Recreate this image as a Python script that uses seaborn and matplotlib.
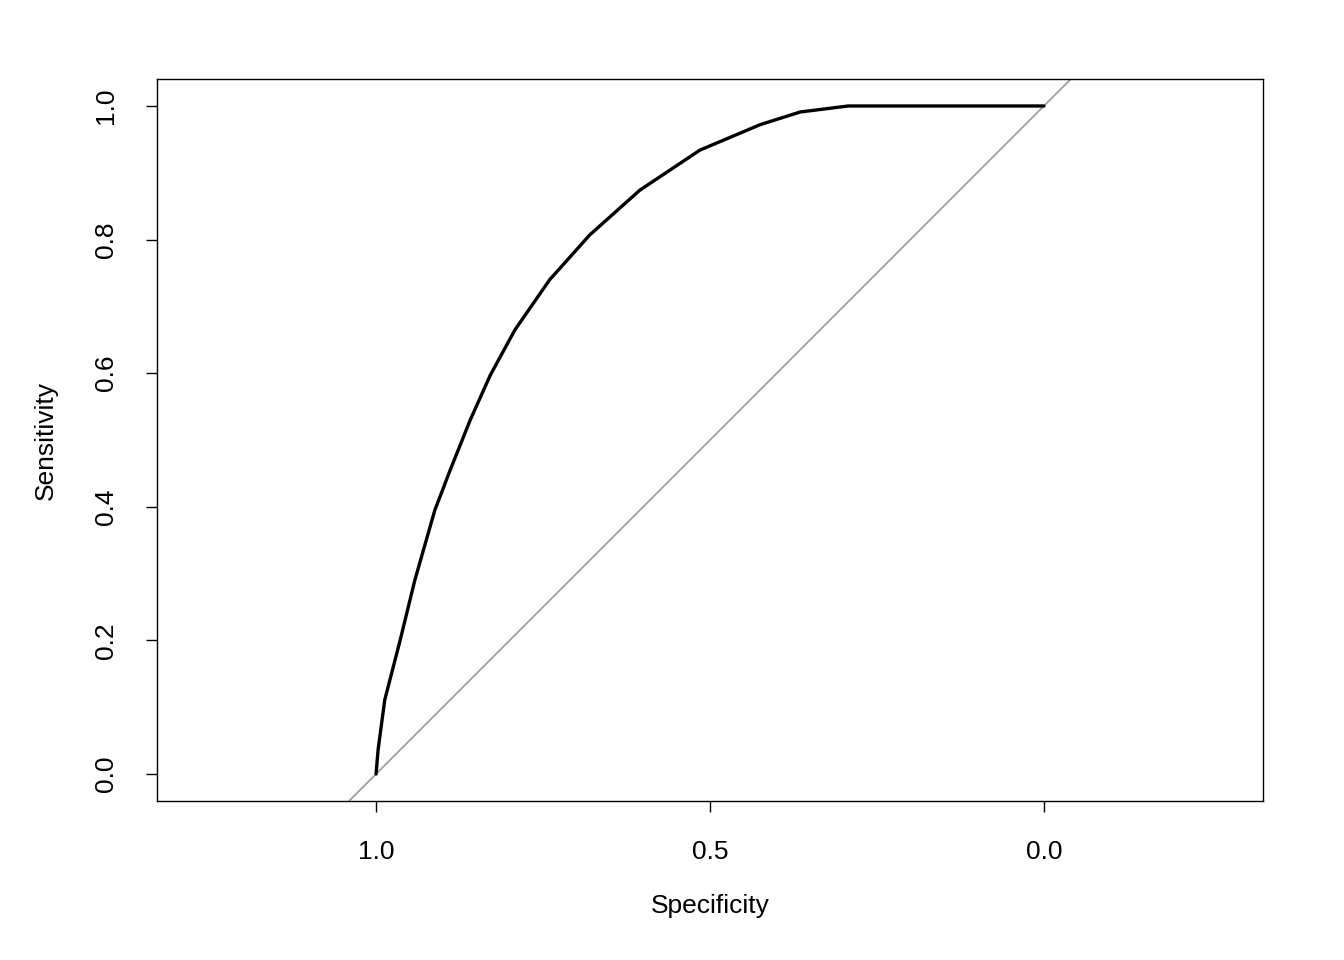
import matplotlib
matplotlib.use("Agg")
import matplotlib.pyplot as plt
import seaborn as sns
import pandas as pd

specificity = [1.0, 0.997, 0.987, 0.964, 0.942, 0.912, 0.889, 0.859, 0.829, 0.792, 0.740, 0.680, 0.605, 0.515, 0.425, 0.365, 0.293, 0.0]
sensitivity = [0.0, 0.036, 0.111, 0.200, 0.290, 0.395, 0.455, 0.530, 0.597, 0.665, 0.740, 0.807, 0.874, 0.934, 0.972, 0.991, 1.0, 1.0]
xticks = [1.0, 0.5, 0.0]
yticks = [0.0, 0.2, 0.4, 0.6, 0.8, 1.0]

sns.set_style("ticks")
plt.rcParams['font.family'] = ['Liberation Sans', 'DejaVu Sans']
plt.rcParams['text.color'] = 'black'
plt.rcParams['axes.labelcolor'] = 'black'
plt.rcParams['xtick.color'] = 'black'
plt.rcParams['ytick.color'] = 'black'

fig = plt.figure(figsize=(13.44, 9.6), dpi=100)
ax = fig.add_axes([157/1344, 1-801/960, (1263-157)/1344, (801-79)/960])
df = pd.DataFrame({"Specificity": specificity, "Sensitivity": sensitivity})
ax.axline((1, 0), (0, 1), color="#a0a0a0", lw=1.3)
sns.lineplot(data=df, x="Specificity", y="Sensitivity", sort=False, ax=ax, color="black", lw=2.4)
ax.set_xlim(1.328, -0.328)
ax.set_ylim(-0.0404, 1.0404)
ax.set_xticks(xticks)
ax.set_xticklabels([f"{t:.1f}" for t in xticks])
ax.set_yticks(yticks)
ax.set_yticklabels([f"{t:.1f}" for t in yticks], rotation=90, va="center")
ax.tick_params(labelsize=19, length=8, width=1, pad=20, color="black", labelcolor="black")
for s in ax.spines.values():
    s.set_color("black"); s.set_linewidth(1)
ax.set_xlabel("Specificity", fontsize=19, labelpad=22)
ax.set_ylabel("Sensitivity", fontsize=19, labelpad=26)
fig.savefig("out.png", dpi=100)
